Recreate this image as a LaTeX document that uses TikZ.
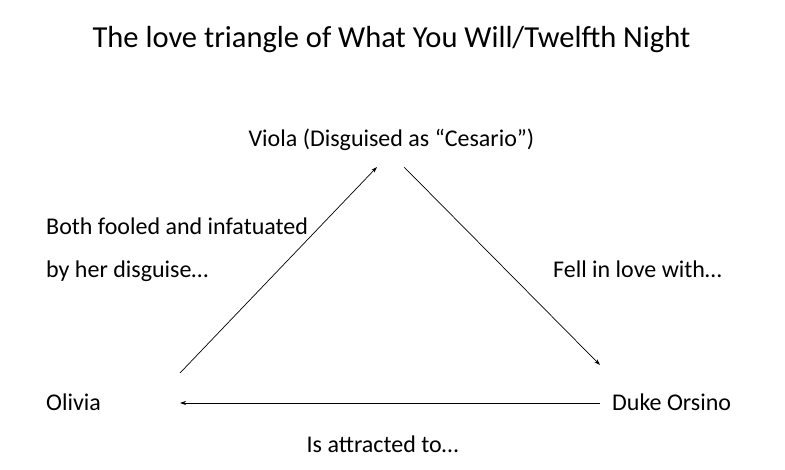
\documentclass[tikz,border=0pt]{standalone}
\usepackage{fontspec}
\setmainfont{Carlito}
\usetikzlibrary{arrows.meta}
\begin{document}
\begin{tikzpicture}[x=1pt,y=-1pt,
  lbl/.style={inner sep=0pt,font=\fontsize{24}{28}\selectfont},
  ttl/.style={inner sep=0pt,font=\fontsize{30.5}{34}\selectfont},
  conn/.style={draw=black,line width=0.7pt,-{Stealth[length=6pt,width=4pt]}}]
\useasboundingbox (0,0) rectangle (785,470);
\node[ttl,anchor=base] (title) at (391.5,48) {The love triangle of What You Will/Twelfth Night};
\node[lbl,anchor=base] (viola) at (391.5,147) {Viola (Disguised as “Cesario”)};
\node[lbl,anchor=base west] (both) at (46,235) {Both fooled and infatuated};
\node[lbl,anchor=base west] (byher) at (46,278) {by her disguise…};
\node[lbl,anchor=base west] (fell) at (553,278) {Fell in love with…};
\node[lbl,anchor=base west] (olivia) at (46,410) {Olivia};
\node[lbl,anchor=base west] (duke) at (612,410) {Duke Orsino};
\node[lbl,anchor=base] (attr) at (382.5,452) {Is attracted to…};
\coordinate (a1) at (180,373);
\coordinate (a2) at (377,167);
\coordinate (b1) at (404,167);
\coordinate (b2) at (600,365);
\coordinate (c1) at (600,403);
\coordinate (c2) at (180,403);
\draw[conn] (a1) -- (a2);
\draw[conn] (b1) -- (b2);
\draw[conn] (c1) -- (c2);
\end{tikzpicture}
\end{document}
